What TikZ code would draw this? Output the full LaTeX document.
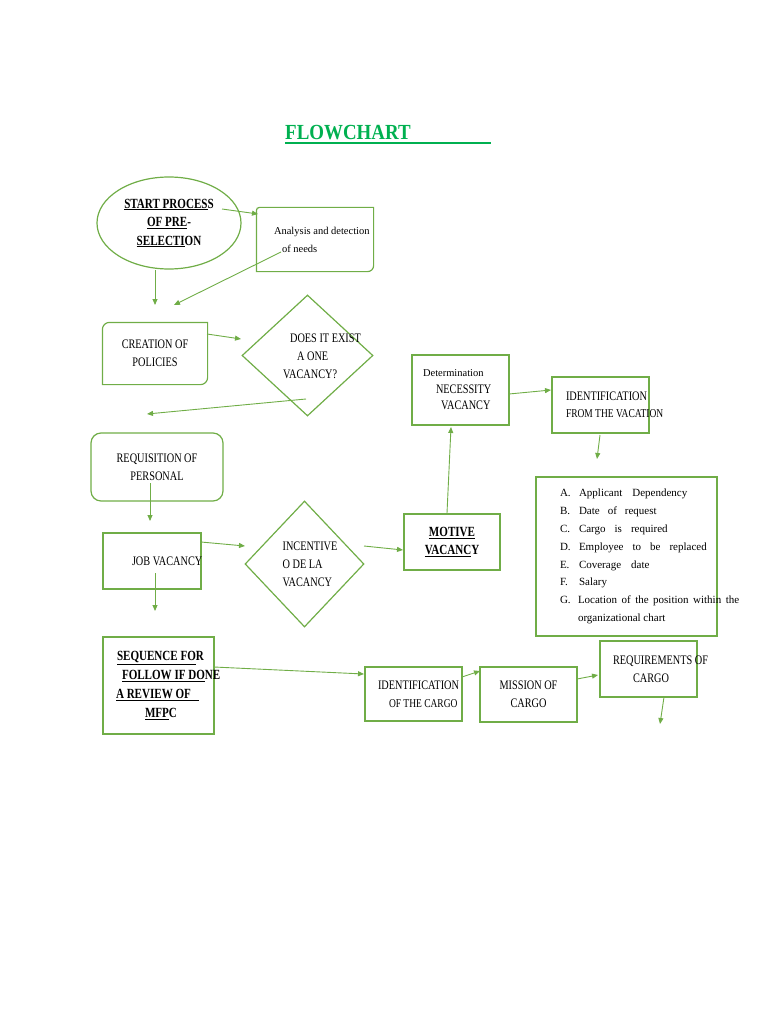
\documentclass[tikz,border=0pt]{standalone}
\usepackage{fontspec}
\setmainfont{Liberation Serif}
\newfontfamily\condfont{Liberation Serif}[FakeStretch=0.79]
\newfontfamily\titlefont{Liberation Serif}[FakeStretch=0.88]
\usetikzlibrary{arrows.meta,shapes.geometric}
\definecolor{leafgreen}{HTML}{70AD47}
\definecolor{titlegreen}{HTML}{00B050}

\begin{document}
\begin{tikzpicture}[
    x=1pt, y=-1pt,
    every node/.style={inner sep=0pt},
    boxNode/.style={draw=leafgreen, line width=1.2pt, align=center, font=\condfont\fontsize{13}{18}\selectfont},
    boldNode/.style={boxNode, font=\condfont\bfseries\fontsize{14}{18.5}\selectfont},
    diamondNode/.style={diamond, draw=leafgreen, line width=1.2pt},
    capsText/.style={align=left, font=\condfont\fontsize{13}{18}\selectfont},
    boxLine/.style={draw=leafgreen, line width=1.2pt},
    flowArrow/.style={draw=leafgreen, line width=0.9pt, -{Triangle[length=6pt,width=5pt]}}
]
    \useasboundingbox (0,0) rectangle (768,1024);

    % Titolo
    \node[anchor=base west, text=titlegreen, font=\titlefont\bfseries\fontsize{21.5}{24}\selectfont] (title) at (285,140) {FLOWCHART};
    \draw[titlegreen, line width=1.5pt] ([yshift=-3pt]title.base west) -- ++(206,0);

    % Prima colonna
    \node[boldNode, ellipse, minimum width=144pt, minimum height=92pt] (start) at (169,223)
        {\underline{START PROCES}S\\\underline{OF PRE}-\\\underline{SELECTI}ON};
    \node[boxNode, draw=none, minimum width=116pt, minimum height=63pt, text width=82pt, align=flush left,
        font=\rmfamily\fontsize{10.5}{18}\selectfont] (needs) at (315,239.5)
        {\mbox{Analysis and detection}\\\hspace*{8pt}of needs};
    \draw[boxLine] (needs.north east) -- ([xshift=3pt]needs.north west) arc[start angle=90, end angle=180, radius=3pt]
        -- (needs.south west) -- ([xshift=-6pt]needs.south east) arc[start angle=270, end angle=360, radius=6pt] -- cycle;
    \node[boxNode, draw=none, minimum width=104pt, minimum height=61pt] (policies) at (155,353.5) {CREATION OF\\POLICIES};
    \draw[boxLine] (policies.north east) -- ([xshift=7pt]policies.north west) arc[start angle=90, end angle=180, radius=7pt]
        -- (policies.south west) -- ([xshift=-7pt]policies.south east) arc[start angle=270, end angle=360, radius=7pt] -- cycle;
    \node[diamondNode, minimum width=131pt, minimum height=121pt] (exists) at (307.5,355.5) {};
    \node[capsText] (existsTxt) at (322,356) {\hspace*{7pt}DOES IT EXIST\\\hspace*{14pt}A ONE\\VACANCY?};
    \node[boxNode, rounded corners=10pt, minimum width=132pt, minimum height=68pt] (request) at (157,467) {REQUISITION OF\\PERSONAL};
    \node[boxNode, minimum width=98pt, minimum height=56pt, text width=40pt, align=flush left] (job) at (152,561) {\mbox{JOB VACANCY}};
    \node[diamondNode, minimum width=119pt, minimum height=126pt] (incentive) at (304.5,564) {};
    \node[capsText] (incentiveTxt) at (310,564.5) {INCENTIVE\\O DE LA\\VACANCY};
    \node[boldNode, minimum width=111pt, minimum height=97pt, text width=85pt, align=flush left,
        font=\condfont\bfseries\fontsize{14}{19}\selectfont] (sequence) at (158.5,685.5)
        {\mbox{\hspace*{1pt}\underline{SEQUENCE FO}R}\\\mbox{\hspace*{6pt}\underline{FOLLOW IF DO}NE}\\\mbox{\underline{A REVIEW OF\hspace*{8pt}}}\\\hspace*{29pt}\underline{MFP}C};

    % Colonna destra
    \node[boldNode, minimum width=96pt, minimum height=56pt] (motive) at (452,542) {\underline{MOTIVE}\\\underline{VACANC}Y};
    \node[boxNode, minimum width=97pt, minimum height=70pt, text width=75pt, align=flush left,
        font=\condfont\fontsize{13}{16.5}\selectfont] (necessity) at (460.5,390)
        {{\rmfamily\fontsize{10.5}{12}\selectfont Determination}\\\hspace*{13pt}NECESSITY\\\hspace*{18pt}VACANCY};
    \node[boxNode, minimum width=97pt, minimum height=56pt, text width=69pt, align=flush left,
        font=\condfont\fontsize{13}{17}\selectfont] (vacation) at (600.5,405)
        {\mbox{IDENTIFICATION}\\\mbox{\fontsize{12}{17}\selectfont FROM THE VACATION}};
    \node[draw=leafgreen, line width=1.2pt, minimum width=181pt, minimum height=159pt, text width=133pt, align=flush left,
        font=\rmfamily\fontsize{11}{17.9}\selectfont] (details) at (626.5,556.5)
        {\mbox{\makebox[19pt][l]{A.}Applicant\hspace{10pt}Dependency}\\
         \mbox{\makebox[19pt][l]{B.}Date\hspace{8pt}of\hspace{8pt}request}\\
         \mbox{\makebox[19pt][l]{C.}Cargo\hspace{9pt}is\hspace{9pt}required}\\
         \mbox{\makebox[19pt][l]{D.}Employee\hspace{9pt}to\hspace{9pt}be\hspace{9pt}replaced}\\
         \mbox{\makebox[19pt][l]{E.}Coverage\hspace{10pt}date}\\
         \mbox{\makebox[19pt][l]{F.}Salary}\\
         \mbox{\makebox[18pt][l]{G.}Location\hspace{4.5pt}of\hspace{4.5pt}the\hspace{4.5pt}position\hspace{4.5pt}within\hspace{4.5pt}the}\\
         \mbox{\hspace*{18pt}organizational chart}};

    % Riga in basso
    \node[boxNode, minimum width=97pt, minimum height=54pt, text width=71pt, align=flush left] (cargoId) at (413.5,694)
        {\mbox{IDENTIFICATION}\\\mbox{\hspace*{11pt}\fontsize{12}{18}\selectfont OF THE CARGO}};
    \node[boxNode, minimum width=97pt, minimum height=55pt] (mission) at (528.5,694.5) {MISSION OF\\CARGO};
    \node[boxNode, minimum width=97pt, minimum height=56pt, text width=71pt, align=flush left] (require) at (648.5,669)
        {\mbox{REQUIREMENTS OF}\\\hspace*{20pt}CARGO};

    % Estremi delle frecce
    \coordinate (startOut) at (222,209);   \coordinate (needsIn) at (258,214);
    \coordinate (startDown) at (155,270);  \coordinate (startEnd) at (155,305);
    \coordinate (needsOut) at (281,252);   \coordinate (needsEnd) at (174,305);
    \coordinate (policiesOut) at (207,334); \coordinate (existsIn) at (241,339);
    \coordinate (existsOut) at (306,399);  \coordinate (existsEnd) at (147,414);
    \coordinate (requestOut) at (150,483); \coordinate (requestEnd) at (150,521);
    \coordinate (jobOut) at (201,542);     \coordinate (incentiveIn) at (245,546);
    \coordinate (jobDown) at (155,573);    \coordinate (jobEnd) at (155,611);
    \coordinate (incentiveOut) at (364,546); \coordinate (motiveIn) at (403,550);
    \coordinate (motiveOut) at (447,513);  \coordinate (necessityIn) at (451,427);
    \coordinate (necessityOut) at (509,394); \coordinate (vacationIn) at (551,390);
    \coordinate (vacationOut) at (600,435); \coordinate (vacationEnd) at (597,459);
    \coordinate (sequenceOut) at (214,667); \coordinate (cargoIdIn) at (364,674);
    \coordinate (cargoIdOut) at (462,677); \coordinate (missionIn) at (480,671);
    \coordinate (missionOut) at (577,679); \coordinate (requireIn) at (598,675);
    \coordinate (requireOut) at (664,697); \coordinate (requireEnd) at (660,724);

    % Frecce
    \draw[flowArrow] (startOut) -- (needsIn);
    \draw[flowArrow] (startDown) -- (startEnd);
    \draw[flowArrow] (needsOut) -- (needsEnd);
    \draw[flowArrow] (policiesOut) -- (existsIn);
    \draw[flowArrow] (existsOut) -- (existsEnd);
    \draw[flowArrow] (requestOut) -- (requestEnd);
    \draw[flowArrow] (jobOut) -- (incentiveIn);
    \draw[flowArrow] (jobDown) -- (jobEnd);
    \draw[flowArrow] (incentiveOut) -- (motiveIn);
    \draw[flowArrow] (motiveOut) -- (necessityIn);
    \draw[flowArrow] (necessityOut) -- (vacationIn);
    \draw[flowArrow] (vacationOut) -- (vacationEnd);
    \draw[flowArrow] (sequenceOut) -- (cargoIdIn);
    \draw[flowArrow] (cargoIdOut) -- (missionIn);
    \draw[flowArrow] (missionOut) -- (requireIn);
    \draw[flowArrow] (requireOut) -- (requireEnd);
\end{tikzpicture}
\end{document}
